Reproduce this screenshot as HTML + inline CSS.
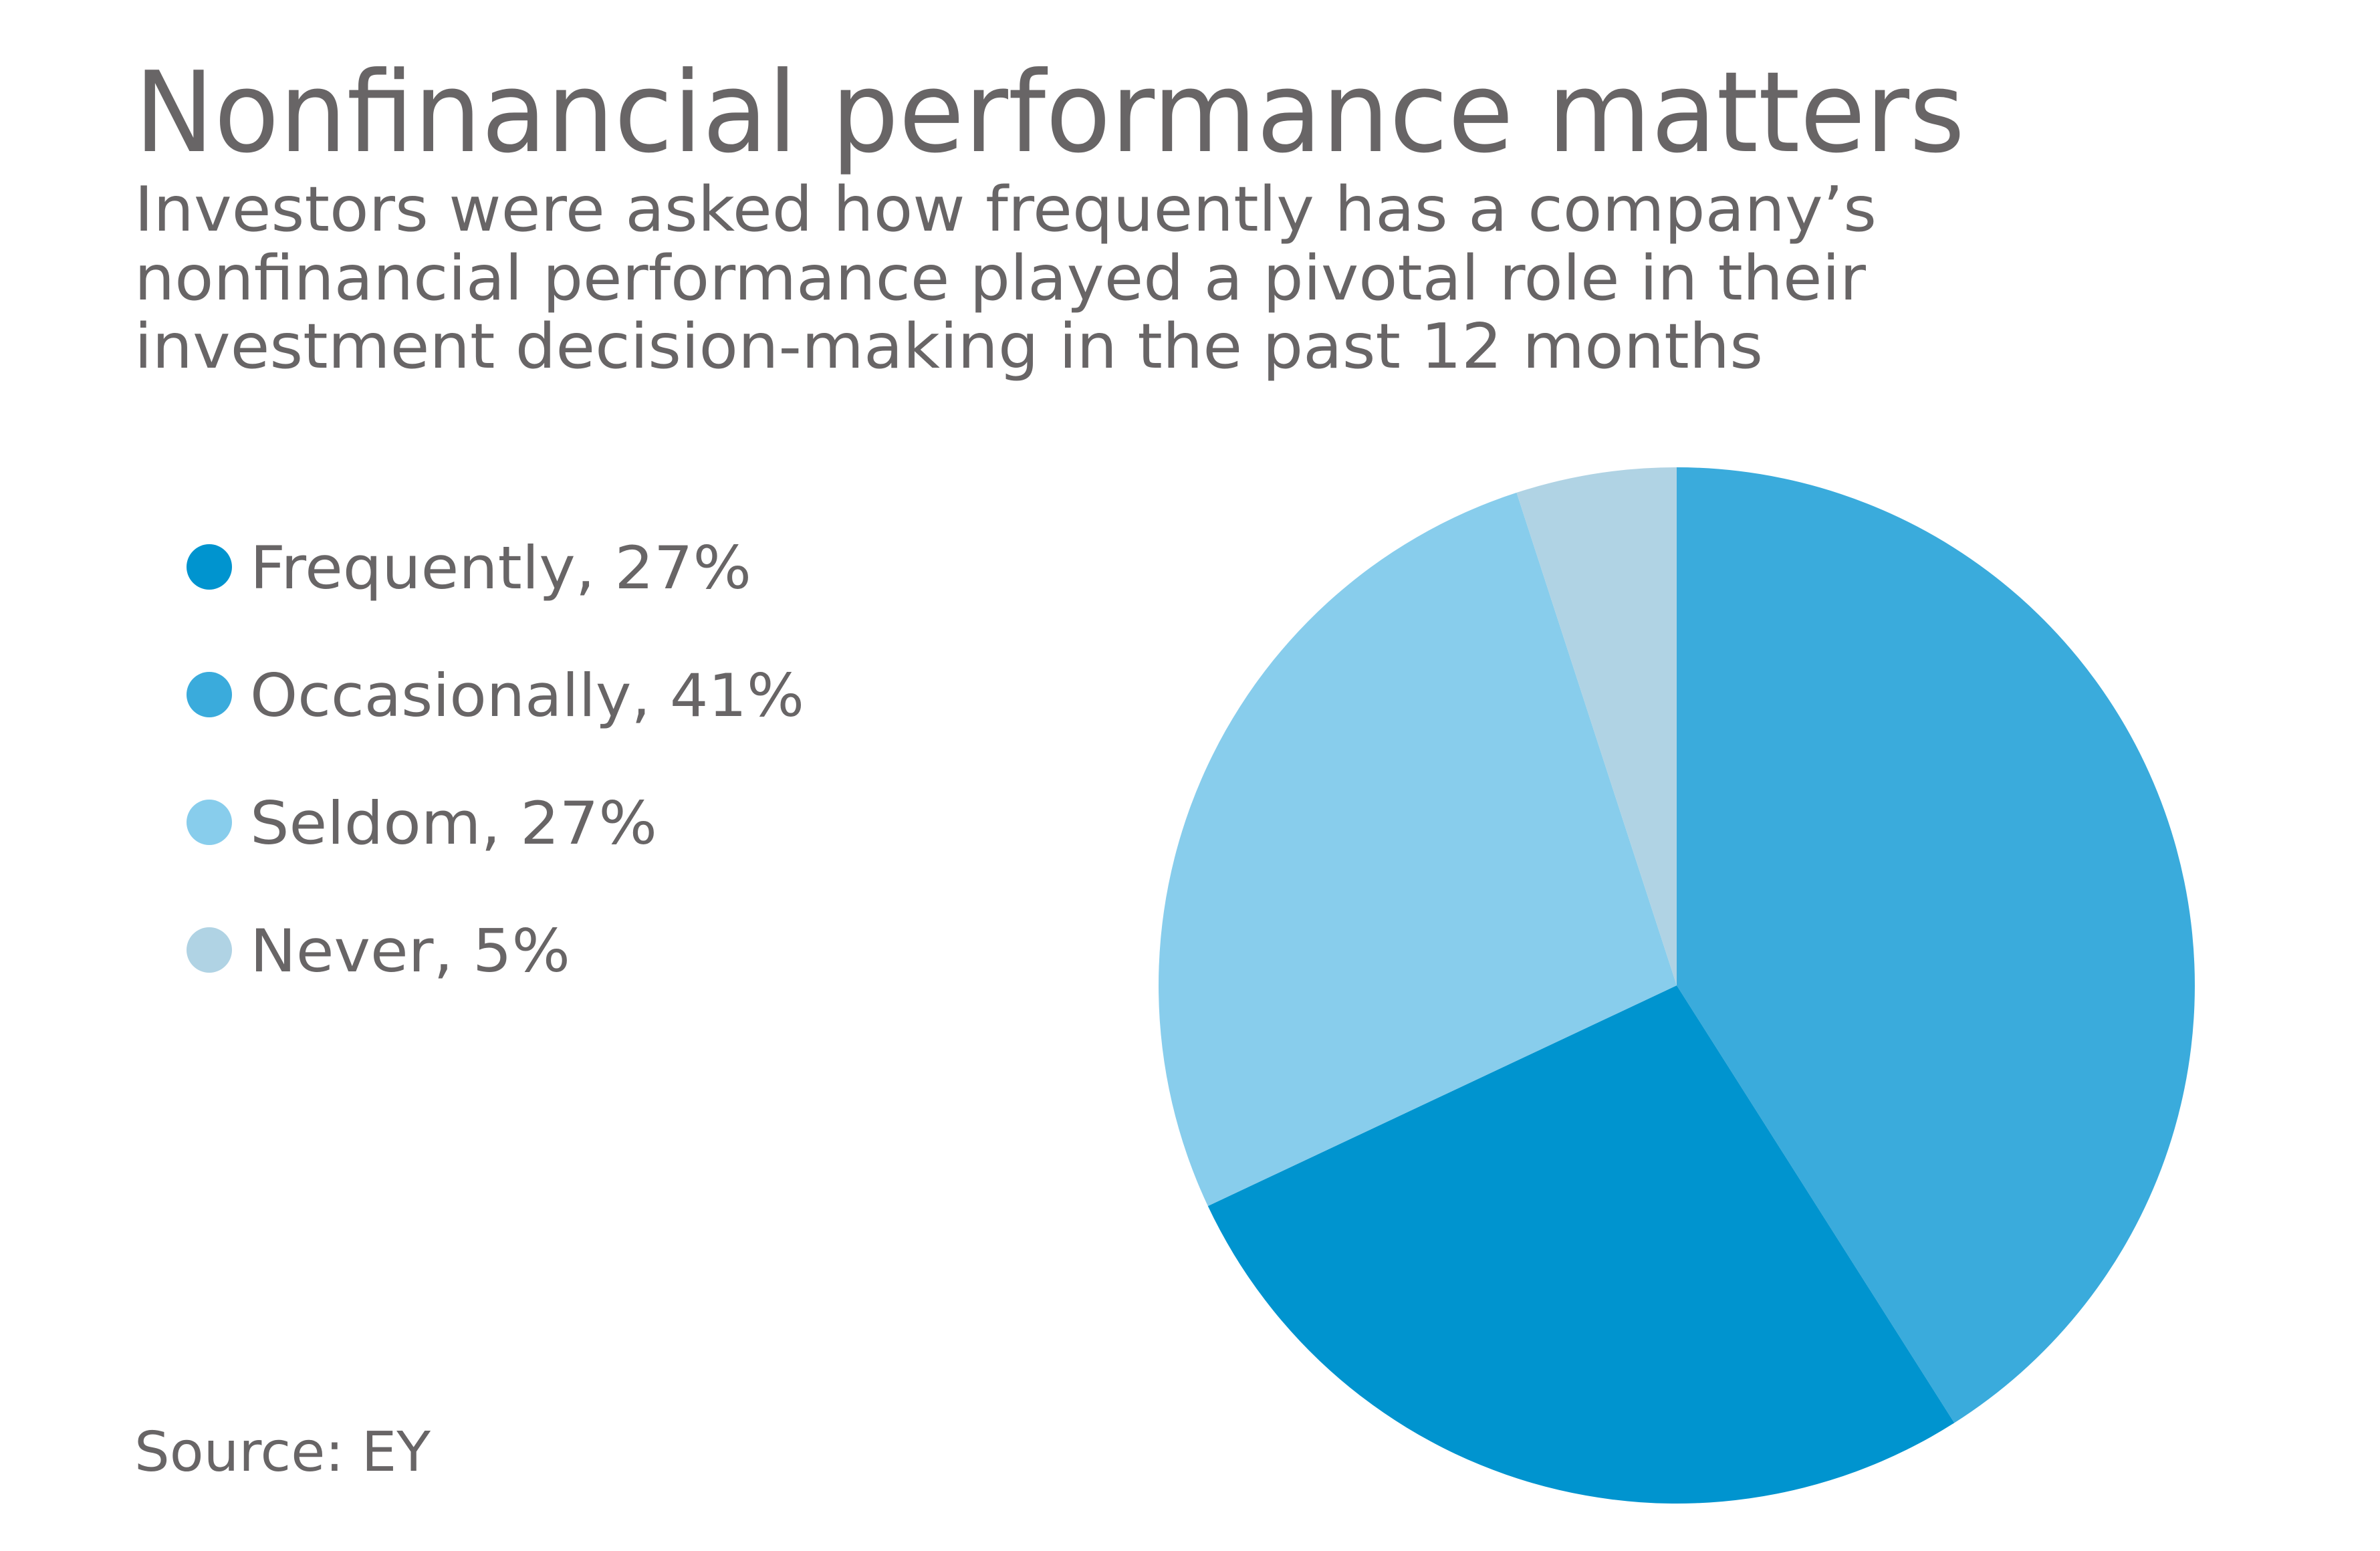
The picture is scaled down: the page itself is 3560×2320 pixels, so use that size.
<!DOCTYPE html>
<html><head><meta charset="utf-8"><style>
html,body{margin:0;padding:0;background:#fff;}
svg{display:block;}
text{font-family:"DejaVu Sans","Liberation Sans",sans-serif;fill:#686566;}
</style></head><body>
<svg id="chart" width="3560" height="2320" viewBox="0 0 3560 2320">
<text x="201" y="226" font-size="167" textLength="2738" lengthAdjust="spacingAndGlyphs">Nonfinancial performance matters</text>
<text x="201" y="345" font-size="93" textLength="2606" lengthAdjust="spacingAndGlyphs">Investors were asked how frequently has a company’s</text>
<text x="201" y="448" font-size="93" textLength="2590" lengthAdjust="spacingAndGlyphs">nonfinancial performance played a pivotal role in their</text>
<text x="201" y="550" font-size="93" textLength="2436" lengthAdjust="spacingAndGlyphs">investment decision-making in the past 12 months</text>
<text x="201" y="2200" font-size="82" textLength="443" lengthAdjust="spacingAndGlyphs">Source: EY</text>
<g id="legend"></g>
<g id="slices"></g>
</svg>
<script>
const categories = ["Frequently", "Occasionally", "Seldom", "Never"];
const values = [27, 41, 27, 5];
const legendLabels = ["Frequently, 27%", "Occasionally, 41%", "Seldom, 27%", "Never, 5%"];
const colors = ["#0094cf", "#3aabdc", "#88cdec", "#b0d3e4"];
const drawOrder = [1, 0, 2, 3];

const NS = "http://www.w3.org/2000/svg";
const cx = 2508, cy = 1474, r = 775;
const total = values.reduce((a, b) => a + b, 0);
const slices = document.getElementById("slices");
let ang = 0;
drawOrder.forEach(i => {
  const a0 = ang, a1 = ang + values[i] / total * 2 * Math.PI;
  ang = a1;
  const x0 = cx + r * Math.sin(a0), y0 = cy - r * Math.cos(a0);
  const x1 = cx + r * Math.sin(a1), y1 = cy - r * Math.cos(a1);
  const large = (a1 - a0) > Math.PI ? 1 : 0;
  const p = document.createElementNS(NS, "path");
  p.setAttribute("d", `M${cx},${cy} L${x0},${y0} A${r},${r} 0 ${large} 1 ${x1},${y1} Z`);
  p.setAttribute("fill", colors[i]);
  
  
  slices.appendChild(p);
});

const legend = document.getElementById("legend");
const widths = [750, 829, 609, 479];
categories.forEach((c, i) => {
  const y = 848 + i * 191;
  const dot = document.createElementNS(NS, "circle");
  dot.setAttribute("cx", 313); dot.setAttribute("cy", y); dot.setAttribute("r", 34);
  dot.setAttribute("fill", colors[i]);
  
  
  legend.appendChild(dot);
  const t = document.createElementNS(NS, "text");
  t.setAttribute("x", 374); t.setAttribute("y", y + 32);
  t.setAttribute("font-size", 88);
  t.setAttribute("textLength", widths[i]);
  t.setAttribute("lengthAdjust", "spacingAndGlyphs");
  t.textContent = legendLabels[i];
  
  
  legend.appendChild(t);
});
</script>
</body></html>
